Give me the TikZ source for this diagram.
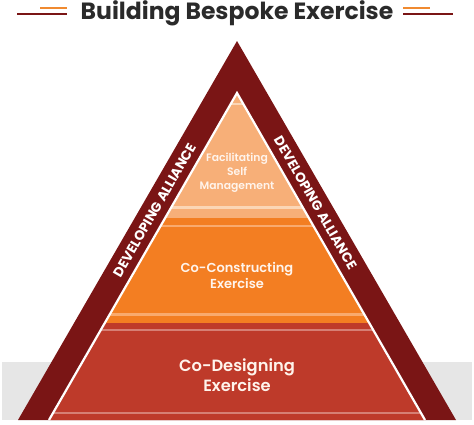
\documentclass[tikz,border=0pt]{standalone}
\usepackage{fontspec}
\setmainfont{Poppins}
\newfontfamily\popsemi{Poppins SemiBold}
\definecolor{darkred}{HTML}{7A1515}
\definecolor{peach}{HTML}{F7AF78}
\definecolor{peachlt}{HTML}{FBD6B6}
\definecolor{orangeb}{HTML}{F37E22}
\definecolor{orangelt}{HTML}{F9AA6E}
\definecolor{redb}{HTML}{BE3A2A}
\definecolor{redlt}{HTML}{D67F74}
\definecolor{graybg}{HTML}{E6E6E6}
\definecolor{titlegray}{HTML}{2A2A2A}
\definecolor{lineorange}{HTML}{F08A30}
\definecolor{labelwhite}{HTML}{FFF4EC}
\tikzset{
  titleline/.style={line width=2.5pt},
  stripe/.style={fill=#1},
  label/.style={text=labelwhite, align=center, inner sep=0pt},
  alliance/.style={text=white, font=\bfseries\fontsize{13.5}{15}\selectfont, inner sep=0pt}
}
\begin{document}
\begin{tikzpicture}[x=1pt,y=-1pt]
\useasboundingbox (0,0) rectangle (474,424);
% grey band
\fill[graybg] (2,362) rectangle (472,420);
% outer triangle
\fill[darkred] (18,420) -- (237,41) -- (456,420) -- cycle;
% inner bands
\begin{scope}
  \clip (49,420) -- (237,93) -- (425,420) -- cycle;
  \fill[peach] (0,80) rectangle (474,218);
  \fill[orangeb] (0,218) rectangle (474,323);
  \fill[redb] (0,323) rectangle (474,421);
  \fill[stripe=peachlt] (0,103) rectangle (474,104.8);
  \fill[stripe=peachlt] (0,205.5) rectangle (474,208.5);
  \fill[stripe=orangelt] (0,225) rectangle (474,227.2);
  \fill[stripe=orangelt] (0,313) rectangle (474,315.5);
  \fill[stripe=redlt] (0,329) rectangle (474,331);
  \fill[stripe=redlt] (0,412) rectangle (474,414);
\end{scope}
\draw[white, line width=2.2pt, line join=miter] (49,420) -- (237,93) -- (425,420);
% title
\node[text=titlegray, font=\bfseries\fontsize{23.5}{27}\selectfont, inner sep=0pt, anchor=base] (title) at (237,19.5) {Building Bespoke Exercise};
\draw[titleline, lineorange] (40,8) -- (67,8);
\draw[titleline, darkred] (17,14) -- (67,14);
\draw[titleline, lineorange] (403,8) -- (430,8);
\draw[titleline, darkred] (403,14) -- (453,14);
% labels
\node[label, font=\popsemi\fontsize{10.8}{14}\selectfont] (fsm) at (237,173) {Facilitating\\Self\\Management};
\node[label, font=\popsemi\fontsize{13}{15.5}\selectfont] (cce) at (237,275.5) {Co-Constructing\\Exercise};
\node[label, font=\popsemi\fontsize{16.3}{20}\selectfont] (cde) at (237,375) {Co-Designing\\Exercise};
\node[alliance, rotate=60] (daL) at (154.5,210) {DEVELOPING ALLIANCE};
\node[alliance, rotate=-60] (daR) at (315.5,203) {DEVELOPING ALLIANCE};
\end{tikzpicture}
\end{document}
